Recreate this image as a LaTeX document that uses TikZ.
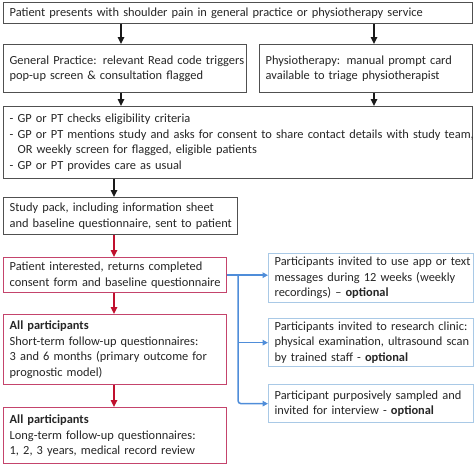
\documentclass[tikz,border=0pt]{standalone}
\usepackage{fontspec}
\setmainfont{Carlito}
\usetikzlibrary{arrows.meta}
\definecolor{graybd}{HTML}{505050}
\definecolor{redbd}{HTML}{C4446C}
\definecolor{redar}{HTML}{C0102E}
\definecolor{bluebd}{HTML}{A9C9E6}
\definecolor{bluear}{HTML}{4F8DD9}
\definecolor{txt}{HTML}{262626}
\newcommand\lineb[1]{\mbox{#1}}
\begin{document}
\begin{tikzpicture}[x=1pt,y=-1pt,
  every node/.style={font=\fontsize{12.4}{15.5}\selectfont, text=txt},
  box/.style={draw, rectangle, anchor=north west, inner xsep=6pt, inner ysep=0pt, align=left, fill=white},
  graybox/.style={box, draw=graybd, line width=1.3pt},
  redbox/.style={box, draw=redbd, line width=1.4pt},
  bluebox/.style={box, draw=bluebd, line width=1.3pt, inner xsep=6pt},
  sz/.style n args={3}{minimum width=#1, minimum height=#2, text width=#3},
  blkarrow/.style={draw=black!90, line width=1.6pt, -{Triangle[length=7pt,width=6.5pt]}},
  redarrow/.style={draw=redar, line width=1.6pt, -{Triangle[length=7pt,width=6.5pt]}},
  bluecon/.style={draw=bluear, line width=1.5pt},
  bluearrow/.style={bluecon, -{Triangle[length=5.5pt,width=5.5pt]}}
]
\useasboundingbox (0,0) rectangle (474,474);

\node[graybox, sz={469pt}{21pt}{457pt}] (n1) at (3,2)
  {\lineb{Patient presents with shoulder pain in general practice or physiotherapy service}};
\node[graybox, sz={243pt}{48pt}{231pt}] (n2a) at (3,44)
  {\lineb{General Practice: relevant Read code triggers}\\\lineb{pop-up screen \& consultation flagged}};
\node[graybox, sz={213pt}{48pt}{201pt}] (n2b) at (259,44)
  {\lineb{Physiotherapy: manual prompt card}\\\lineb{available to triage physiotherapist}};
\node[graybox, sz={469pt}{72pt}{457pt}] (n3) at (3,106)
  {\lineb{- GP or PT checks eligibility criteria}\\
   \lineb{- GP or PT mentions study and asks for consent to share contact details with study team,}\\
   \lineb{\phantom{-}\ OR weekly screen for flagged, eligible patients}\\
   \lineb{- GP or PT provides care as usual}};
\node[graybox, sz={234pt}{37pt}{222pt}] (n4) at (3,197)
  {\lineb{Study pack, including information sheet}\\\lineb{and baseline questionnaire, sent to patient}};
\node[redbox, sz={223pt}{35pt}{211pt}] (n5) at (3,257)
  {\lineb{Patient interested, returns completed}\\\lineb{consent form and baseline questionnaire}};
\node[redbox, sz={223pt}{70pt}{211pt}] (n6) at (3,314)
  {\lineb{\textbf{All participants}}\\\lineb{Short-term follow-up questionnaires:}\\
   \lineb{3 and 6 months (primary outcome for}\\\lineb{prognostic model)}};
\node[redbox, sz={223pt}{56pt}{211pt}] (n7) at (3,407)
  {\lineb{\textbf{All participants}}\\\lineb{Long-term follow-up questionnaires:}\\
   \lineb{1, 2, 3 years, medical record review}};
\node[bluebox, sz={205pt}{49pt}{193pt}] (b1) at (268,253)
  {\lineb{Participants invited to use app or text}\\\lineb{messages during 12 weeks (weekly}\\
   \lineb{recordings) – \textbf{optional}}};
\node[bluebox, sz={205pt}{48pt}{193pt}] (b2) at (268,318)
  {\lineb{Participants invited to research clinic:}\\\lineb{physical examination, ultrasound scan}\\
   \lineb{by trained staff - \textbf{optional}}};
\node[bluebox, sz={205pt}{38pt}{193pt}] (b3) at (268,384)
  {\lineb{Participant purposively sampled and}\\\lineb{invited for interview - \textbf{optional}}};

\coordinate (xl) at (121,0);
\coordinate (xr) at (374,0);
\coordinate (xm) at (114,0);
\coordinate (tr) at (238,0);

\draw[blkarrow] (n1.south -| xl) -- (n2a.north -| xl);
\draw[blkarrow] (n1.south -| xr) -- (n2b.north -| xr);
\draw[blkarrow] (n2a.south -| xl) -- (n3.north -| xl);
\draw[blkarrow] (n2b.south -| xr) -- (n3.north -| xr);
\draw[blkarrow] (n3.south -| xm) -- (n4.north -| xm);
\draw[redarrow] (n4.south -| xm) -- (n5.north -| xm);
\draw[redarrow] (n5.south -| xm) -- (n6.north -| xm);
\draw[redarrow] (n6.south -| xm) -- (n7.north -| xm);

\draw[bluearrow] (n5.east) -- (n5.east -| b1.west);
\draw[bluearrow, rounded corners=3pt] (n5.east -| tr) |- (b3.west);
\draw[bluearrow] (b2.west -| tr) -- (b2.west);
\end{tikzpicture}
\end{document}
